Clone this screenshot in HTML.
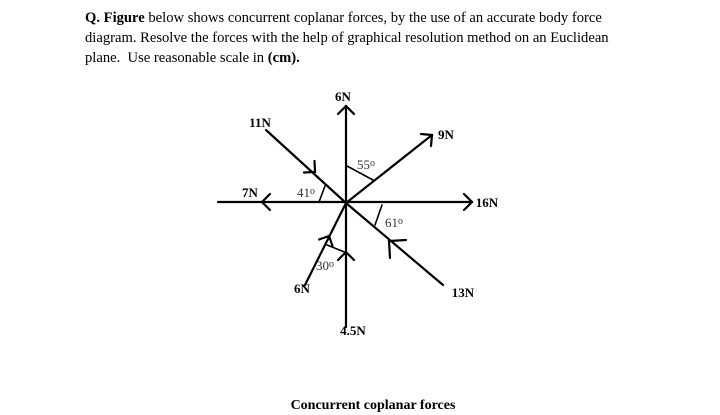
<!DOCTYPE html>
<html><head><meta charset="utf-8"><style>
html,body{margin:0;padding:0;background:#fff;}
body{width:720px;height:415px;position:relative;overflow:hidden;font-family:"Liberation Serif",serif;color:#000;}
.p{position:absolute;left:85px;font-size:14.6px;white-space:nowrap;}
</style></head><body>
<div class="p" style="top:10px"><b>Q. Figure</b> below shows concurrent coplanar forces, by the use of an accurate body force</div>
<div class="p" style="top:30px">diagram. Resolve the forces with the help of graphical resolution method on an Euclidean</div>
<div class="p" style="top:50px">plane.&nbsp; Use reasonable scale in <b>(cm).</b></div>
<svg width="720" height="415" style="position:absolute;left:0;top:0" font-family="Liberation Serif, serif">
<g stroke="#000" stroke-width="2.2" fill="none" stroke-linecap="round">
<line x1="218" y1="202" x2="472" y2="202"/>
<line x1="346" y1="106" x2="346" y2="327"/>
<line x1="266" y1="130" x2="346" y2="203"/>
<line x1="346" y1="203" x2="432" y2="135"/>
<line x1="346" y1="203" x2="443" y2="285"/>
<line x1="305" y1="285" x2="346" y2="203"/>
<polyline points="338,114 346,106 354,114"/>
<polyline points="464,194 472,202 464,210"/>
<polyline points="270,194 262,202 270,210"/>
<polyline points="314.5,161 315,172 304,172.5"/>
<polyline points="421,134 432,135 431,146"/>
<polyline points="390,258 389,241 406,240"/>
<polyline points="319,239.5 329,236 332.5,246"/>
<polyline points="338,260 346,252 354,260"/>
<g stroke-width="1.6">
<line x1="347" y1="166" x2="373" y2="180"/>
<line x1="319" y1="202" x2="325" y2="186"/>
<line x1="382" y1="205" x2="375" y2="225"/>
<line x1="327" y1="245" x2="347" y2="253"/>
</g>
</g>
<g font-size="13" font-weight="bold" text-anchor="middle">
<text x="343" y="101">6N</text>
<text x="260" y="127">11N</text>
<text x="446" y="139">9N</text>
<text x="250" y="197">7N</text>
<text x="487" y="207">16N</text>
<text x="302" y="293">6N</text>
<text x="463" y="297">13N</text>
<text x="353" y="335">4.5N</text>
</g>
<g font-size="13" fill="#333">
<text x="297" y="197">41<tspan font-size="10" dy="-3">o</tspan></text>
<text x="357" y="169">55<tspan font-size="10" dy="-3">o</tspan></text>
<text x="385" y="227">61<tspan font-size="10" dy="-3">o</tspan></text>
<text x="316" y="270">30<tspan font-size="10" dy="-3">o</tspan></text>
</g>
<text x="373" y="409" font-size="14" font-weight="bold" text-anchor="middle">Concurrent coplanar forces</text>
</svg>
</body></html>
